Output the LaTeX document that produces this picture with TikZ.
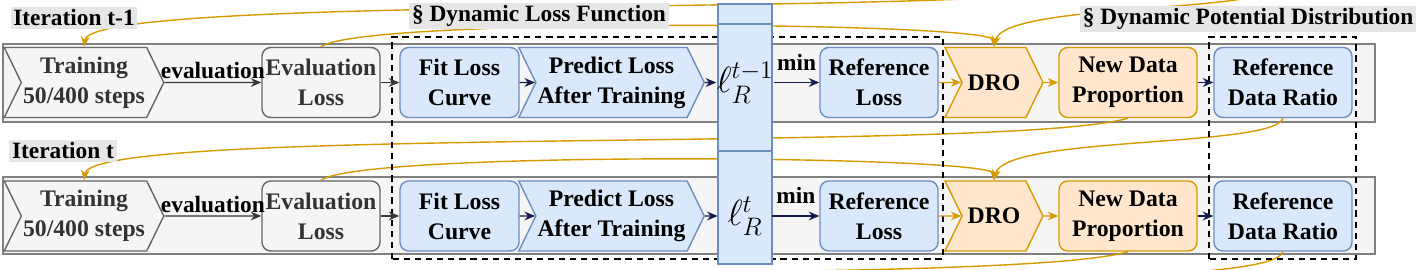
\documentclass[tikz,border=0pt]{standalone}
\usepackage{fontspec}
\setmainfont{Liberation Serif}[BoldFont={Liberation Serif Bold}]
\usepackage{amsmath}
\usetikzlibrary{
  positioning,
  shapes.symbols,
  arrows.meta,
  calc,
}
\definecolor{border}{HTML}{666666}
\definecolor{bandLine}{HTML}{808080}
\definecolor{fillMain}{HTML}{F5F5F5}
\definecolor{fillBlue}{HTML}{DAE8FC}
\definecolor{lineBlue}{HTML}{6C8EBF}
\definecolor{fillOrange}{HTML}{FFE6CC}
\definecolor{lineOrange}{HTML}{D79B00}
\definecolor{tagGray}{HTML}{E6E6E6}
\definecolor{textDark}{HTML}{333333}
\definecolor{arrowCol}{HTML}{383838}
\definecolor{arrowNavy}{HTML}{141B4D}
\newcommand{\nodefont}{\rmfamily\bfseries\fontsize{13.5}{17}\selectfont}
\newcommand{\tagfont}{\rmfamily\bfseries\fontsize{13.3}{15}\selectfont}
\tikzset{
  graybox/.style={
    rectangle, rounded corners=5pt, draw=border, fill=fillMain, text=textDark,
    minimum width=2.36cm, minimum height=1.4cm, align=center,
    font=\nodefont, inner sep=1pt, line width=0.8pt,
  },
  bluebox/.style={graybox, draw=lineBlue, fill=fillBlue, text=black},
  orangebox/.style={graybox, draw=lineOrange, fill=fillOrange, text=black},
  graystep/.style={
    signal, signal from=west, signal to=east, signal pointer angle=128,
    draw=border, fill=fillMain, text=textDark, minimum height=1.4cm, align=center,
    font=\nodefont, inner sep=1pt, line width=0.8pt,
  },
  bluestep/.style={graystep, draw=lineBlue, fill=fillBlue, text=black},
  orangestep/.style={graystep, draw=lineOrange, fill=fillOrange, text=black},
  band/.style={draw=bandLine, fill=fillMain, line width=1.2pt},
  dashframe/.style={draw=black, dash pattern=on 3.5pt off 2.8pt, line width=0.9pt},
  cell/.style={draw=lineBlue, fill=fillBlue, line width=0.8pt},
  lossnode/.style={
    rectangle, minimum width=1.08cm, minimum height=1.4cm,
    inner sep=0pt, font=\fontsize{20}{22}\selectfont,
  },
  arrow/.style={-{Stealth[length=6pt,width=5pt]}, arrowCol, line width=0.8pt},
  narrow/.style={arrow, arrowNavy},
  oarrow/.style={arrow, lineOrange},
  curve/.style={-{Stealth[length=6pt,width=5pt]}, lineOrange, line width=0.8pt},
  tag/.style={fill=tagGray, font=\tagfont, inner sep=1.5pt},
  edgetext/.style={font=\tagfont, text=black, inner sep=1.5pt, above},
}

\begin{document}
\begin{tikzpicture}

  \useasboundingbox (0,0) rectangle (28.46,5.4);
  \clip (0,0) rectangle (28.46,5.4);

  % Row bands
  \draw[band] (0.06,2.96) rectangle (27.5,4.52);
  \draw[band] (0.06,0.32) rectangle (27.5,1.86);

  % Iteration t-1
  \node[graystep, minimum width=3.16cm] (trainA) at (1.68,3.75) {Training\\50/400 steps};
  \node[graybox] (evalA) at (6.42,3.75) {Evaluation\\Loss};
  \node[bluebox, minimum width=2.38cm] (fitA) at (9.19,3.75) {Fit Loss\\Curve};
  \node[bluestep, minimum width=3.54cm] (predA) at (12.23,3.75) {Predict Loss\\After Training};
  \node[bluebox] (refA) at (17.58,3.75) {Reference\\Loss};
  \node[orangestep, minimum width=1.96cm] (droA) at (19.88,3.75) {DRO};
  \node[orangebox, minimum width=2.76cm] (ndpA) at (22.56,3.75) {New Data\\Proportion};
  \node[bluebox, minimum width=2.76cm] (rdrA) at (25.66,3.75) {Reference\\Data Ratio};

  % Iteration t
  \node[graystep, minimum width=3.16cm] (trainB) at (1.68,1.08) {Training\\50/400 steps};
  \node[graybox] (evalB) at (6.42,1.08) {Evaluation\\Loss};
  \node[bluebox, minimum width=2.38cm] (fitB) at (9.19,1.08) {Fit Loss\\Curve};
  \node[bluestep, minimum width=3.54cm] (predB) at (12.23,1.08) {Predict Loss\\After Training};
  \node[bluebox] (refB) at (17.58,1.08) {Reference\\Loss};
  \node[orangestep, minimum width=1.96cm] (droB) at (19.88,1.08) {DRO};
  \node[orangebox, minimum width=2.76cm] (ndpB) at (22.56,1.08) {New Data\\Proportion};
  \node[bluebox, minimum width=2.76cm] (rdrB) at (25.66,1.08) {Reference\\Data Ratio};

  % neighbouring iterations (cut off by the frame)
  \coordinate (ndpPrev) at (22.56,5.72);
  \coordinate (rdrPrev) at (25.66,5.72);
  \coordinate (trainNext) at (1.68,-0.89);
  \coordinate (droNext) at (19.88,-0.89);

  % Feedback curves
  \draw[curve] (ndpPrev) .. controls +(-2.4,-0.7) and +(0.14,1.1) .. (trainA.north);
  \draw[curve] (rdrPrev) .. controls +(-0.2,-0.6) and +(0.2,0.9) .. (droA.north);
  \draw[curve] (evalA.north) .. controls +(0.8,0.6) and +(0,0.5) .. (droA.north);
  \draw[curve] (ndpA.south) .. controls +(-2.4,-0.7) and +(0.14,1.1) .. (trainB.north);
  \draw[curve] (rdrA.south) .. controls +(-0.2,-0.6) and +(0.2,0.9) .. (droB.north);
  \draw[curve] (evalB.north) .. controls +(0.8,0.6) and +(0,0.5) .. (droB.north);
  \draw[curve] (ndpB.south) .. controls +(-2.4,-0.7) and +(0.14,1.1) .. (trainNext);
  \draw[curve] (rdrB.south) .. controls +(-0.2,-0.6) and +(0.2,0.9) .. (droNext);

  % Tags
  \node[tag] (iterA) at (1.48,5.04) {Iteration t-1};
  \node[tag] (iterB) at (1.26,2.38) {Iteration t};
  \node[tag] (lossTag) at (10.78,5.08) {\S\ Dynamic Loss Function};
  \node[tag] (distTag) at (24.96,5.02) {\S\ Dynamic Potential Distribution};

  % Dashed frames
  \draw[dashframe] (7.84,0.22) rectangle (18.86,4.66);
  \draw[dashframe] (24.18,0.22) rectangle (27.12,4.66);

  % Reference loss column
  \draw[cell] (14.36,4.92) rectangle (15.44,5.32);
  \draw[cell] (14.36,2.38) rectangle (15.44,4.92);
  \draw[cell] (14.36,0.12) rectangle (15.44,2.38);
  \node[lossnode] (lossA) at (14.9,3.75) {$\ell_R^{t-1}$};
  \node[lossnode] (lossB) at (14.9,1.08) {$\ell_R^{t}$};

  \draw[arrow] (trainA) -- node[edgetext] {evaluation} (evalA);
  \draw[arrow] (evalA) -- (fitA);
  \draw[narrow] (fitA) -- (predA);
  \draw[narrow] (predA) -- (lossA);
  \draw[narrow] (lossA) -- node[edgetext, yshift=5pt] {min} (refA);
  \draw[oarrow] (refA) -- (droA);
  \draw[oarrow] (droA) -- (ndpA);
  \draw[narrow] (ndpA) -- (rdrA);

  \draw[arrow] (trainB) -- node[edgetext] {evaluation} (evalB);
  \draw[arrow] (evalB) -- (fitB);
  \draw[narrow] (fitB) -- (predB);
  \draw[narrow] (predB) -- (lossB);
  \draw[narrow] (lossB) -- node[edgetext, yshift=5pt] {min} (refB);
  \draw[oarrow] (refB) -- (droB);
  \draw[oarrow] (droB) -- (ndpB);
  \draw[narrow] (ndpB) -- (rdrB);

\end{tikzpicture}
\end{document}
